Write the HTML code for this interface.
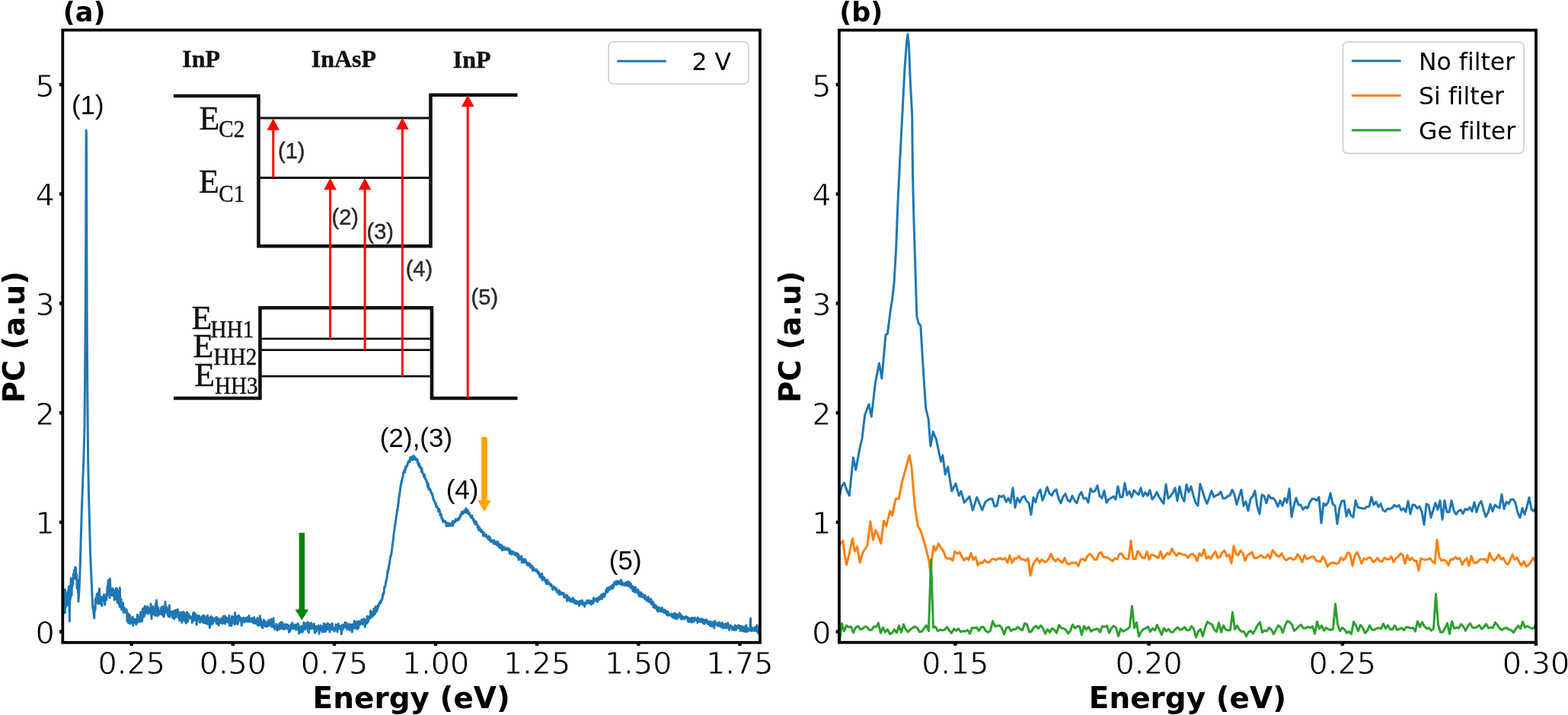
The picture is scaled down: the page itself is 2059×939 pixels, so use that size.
<!DOCTYPE html>
<html><head><meta charset="utf-8"><title>PC spectra</title>
<style>
html,body{margin:0;padding:0;background:#fff;}
body{width:2059px;height:939px;overflow:hidden;}
svg{display:block;}
text{font-variant-ligatures:none;font-feature-settings:"liga" 0,"clig" 0;font-kerning:none;}
.tl{font-family:"DejaVu Sans","Liberation Sans",sans-serif;font-size:39.7px;fill:#000;stroke:#fff;stroke-width:0.8px;}
.lb{font-family:"DejaVu Sans","Liberation Sans",sans-serif;font-size:39px;font-weight:bold;fill:#000;}
.pl{font-family:"DejaVu Sans","Liberation Sans",sans-serif;font-size:35.1px;font-weight:bold;fill:#000;}
.an{font-family:"Liberation Sans","DejaVu Sans",sans-serif;font-size:35px;fill:#000;}
.lg{font-family:"DejaVu Sans","Liberation Sans",sans-serif;font-size:31.5px;fill:#000;}
.tk{stroke:#000;stroke-width:4.5;}
.sp{fill:none;stroke:#000;stroke-width:3.8;}
.cv{fill:none;stroke-width:3;stroke-linejoin:round;stroke-linecap:butt;}
.ser{font-family:"Liberation Serif","DejaVu Serif",serif;fill:#111;stroke:#111;stroke-width:0.4px;}
.ins{font-family:"Liberation Sans","DejaVu Sans",sans-serif;font-size:29px;fill:#2b2b2b;stroke:#2b2b2b;stroke-width:0.5px;}
</style></head><body>
<svg width="2059" height="939" viewBox="0 0 2059 939">
<rect x="0" y="0" width="2059" height="939" fill="#fff"/>

<defs><clipPath id="ca"><rect x="82.3" y="39.5" width="915.7" height="804.3"/></clipPath><clipPath id="cb"><rect x="1101.9" y="39.6" width="915.1" height="804.1"/></clipPath></defs>
<g>
<polyline stroke="#111" fill="none" stroke-width="4.6" points="228,126 339.5,126 339.5,323.3 565.5,323.3 565.5,124.8 679.5,124.8"/>
<polyline stroke="#111" fill="none" stroke-width="4.6" points="228,523 341.5,523 341.5,404.2 567,404.2 567,523 679.5,523"/>
<line x1="341.5" y1="154.9" x2="563.5" y2="154.9" stroke="#111" stroke-width="3"/>
<line x1="341.5" y1="233.4" x2="563.5" y2="233.4" stroke="#111" stroke-width="3"/>
<line x1="343.5" y1="444.8" x2="565" y2="444.8" stroke="#111" stroke-width="2.8"/>
<line x1="343.5" y1="459.7" x2="565" y2="459.7" stroke="#111" stroke-width="2.8"/>
<line x1="343.5" y1="494.2" x2="565" y2="494.2" stroke="#111" stroke-width="2.8"/>
<line x1="358.8" y1="169.4" x2="358.8" y2="233.4" stroke="#ff0000" stroke-width="3"/>
<polygon points="350.5,170.9 367.1,170.9 358.8,155.4" fill="#ff0000"/>
<line x1="433.6" y1="247.8" x2="433.6" y2="444.8" stroke="#ff0000" stroke-width="3"/>
<polygon points="425.3,249.3 441.9,249.3 433.6,233.8" fill="#ff0000"/>
<line x1="479.1" y1="247.8" x2="479.1" y2="459.7" stroke="#ff0000" stroke-width="3"/>
<polygon points="470.8,249.3 487.4,249.3 479.1,233.8" fill="#ff0000"/>
<line x1="528.4" y1="168.6" x2="528.4" y2="494.2" stroke="#ff0000" stroke-width="3"/>
<polygon points="520.1,170.1 536.7,170.1 528.4,154.6" fill="#ff0000"/>
<line x1="614.2" y1="138.8" x2="614.2" y2="523" stroke="#ff0000" stroke-width="3"/>
<polygon points="605.9,140.3 622.5,140.3 614.2,124.8" fill="#ff0000"/>
<text class="ser" style="font-weight:bold" font-size="32" x="264.2" y="88.2" text-anchor="middle">InP</text>
<text class="ser" style="font-weight:bold" font-size="32" x="451.4" y="88.2" text-anchor="middle">InAsP</text>
<text class="ser" style="font-weight:bold" font-size="32" x="619.7" y="88.8" text-anchor="middle">InP</text>
<text class="ser" font-size="44" x="261.5" y="170.4">E</text>
<text class="ser" font-size="29.2" transform="translate(287.2 179.5) scale(1 1.075)">C2</text>
<text class="ser" font-size="44" x="261" y="253">E</text>
<text class="ser" font-size="29.2" transform="translate(287.2 264.5) scale(1 1.075)">C1</text>
<text class="ser" font-size="44" x="251.5" y="432">E</text>
<text class="ser" font-size="29.2" transform="translate(276.6 443) scale(1 1.075)">HH1</text>
<text class="ser" font-size="44" x="253.5" y="468.5">E</text>
<text class="ser" font-size="29.2" transform="translate(280.6 478.5) scale(1 1.075)">HH2</text>
<text class="ser" font-size="44" x="255.2" y="507">E</text>
<text class="ser" font-size="29.2" transform="translate(281.9 517) scale(1 1.075)">HH3</text>
<text class="ins" x="365" y="208.3">(1)</text>
<text class="ins" x="435.5" y="294.5">(2)</text>
<text class="ins" x="481.5" y="313.5">(3)</text>
<text class="ins" x="532.7" y="362.5">(4)</text>
<text class="ins" x="618.6" y="400">(5)</text>
</g>
<path class="cv" clip-path="url(#ca)" stroke="#1f77b4" d="M84 781L84.3 784.4L84.7 779.6L85 774.3L85.4 805L85.7 774.5L86.1 785.1L86.4 797.8L86.8 781L87.1 780.3L87.5 791.2L87.8 790.2L88.2 788.2L88.5 778.7L88.9 787.6L89.2 794.9L89.6 775.8L89.9 784.6L90.3 770.5L90.6 775.8L91 770L91.3 816L91.7 774.4L92 788.5L92.4 786.5L92.7 782.4L93.1 759.5L93.4 777.4L93.8 781.2L94.1 781.9L94.5 765.5L94.8 770.8L95.2 765.3L95.5 761.6L95.9 767.2L96.2 754.1L96.6 756.2L96.9 759.2L97.3 749L97.6 750.5L98 751.9L98.3 751.9L98.7 745.1L99 752.6L99.4 760.6L99.7 745.7L100.1 760L100.4 756.9L100.8 754.5L101.1 772.5L101.5 769.2L101.8 761.9L102.2 772.4L102.5 778.7L102.9 778L103 790L104.2 770L105.2 745L106.3 705L107.2 675L108.5 638L110 598L111 560L112 450L112.7 320L113 200L113.2 171L113.5 180L113.8 300L114.2 420L114.7 500L115.6 600L116.6 655L117.4 680L118.5 725L119.5 748L120.6 772L121.8 798L123.2 806L123.8 812L124.2 796.5L124.6 798.8L125.1 801.3L125.5 786.5L125.9 789.7L126.3 785L126.7 788.3L127.2 780.1L127.6 783.5L128 785.5L128.4 791.8L128.8 793L129.3 777.9L129.7 780.8L130.1 789.1L130.5 773.1L130.9 782.4L131.4 784.8L131.8 793.1L132.2 789.9L132.6 784L133 783.9L133.5 784.8L133.9 795.6L134.3 784.1L134.7 785L135.1 789.1L135.6 786.5L136 786.2L136.4 780.9L136.8 787.7L137.2 785.3L137.7 794.3L138.1 790L138.5 784.8L138.9 787.8L139.3 780.6L139.8 787.8L140.2 780.2L140.6 782.6L141 770.2L141.4 778.9L141.9 765.6L142.3 762.3L142.7 771.6L143.1 766.9L143.5 772.1L144 785.2L144.4 760L144.8 769.7L145.2 775.6L145.6 778.2L146.1 775L146.5 775.7L146.9 782L147.3 781.5L147.7 772.7L148.2 779L148.6 780.2L149 774.2L149.4 782.6L149.8 776.4L150.3 787.9L150.7 783.8L151.1 783.6L151.5 780L151.9 783.3L152.4 772.4L152.8 778.1L153.2 787.5L153.6 772.9L154 791.2L154.5 776.1L154.9 791.6L155.3 782.4L155.7 792.6L156.1 789.1L156.6 779.5L157 796.8L157.4 772L157.8 790.5L158.2 790L158.7 791.4L159.1 787.3L159.5 800.5L159.9 791.4L160.3 795.2L160.8 792.7L161.2 794.2L161.6 792L162 804.2L162.4 798.6L162.9 804.4L163.3 800.9L163.7 798.5L164.1 800.9L164.5 800.6L165 804L165.4 803.1L165.8 804.4L166.2 800.4L166.6 803.9L167.1 815.9L167.5 806.3L167.9 805.5L168.3 812.6L168.7 818.3L169.2 806.4L169.6 812.9L170 811.9L170.4 807.7L170.8 819.3L171.3 815.8L171.7 816.2L172.1 812.4L172.5 817.8L172.9 813.3L173.4 815L173.8 810.6L174.2 810.1L174.6 821.5L175 813.2L175.5 816.7L175.9 815.2L176.3 813.3L176.7 813L177.1 818.1L177.6 813.8L178 814.4L178.4 815.2L178.8 820.3L179.2 817.8L179.7 816.1L180.1 811.4L180.5 807.3L180.9 817.4L181.3 817L181.8 811.6L182.2 814.3L182.6 814.9L183 814.7L183.4 814.7L183.9 808.1L184.3 816.5L184.7 803.7L185.1 812.8L185.5 810.7L186 812L186.4 816.2L186.8 814.2L187.2 802.1L187.6 799.4L188.1 810.4L188.5 801.9L188.9 806.2L189.3 809.7L189.7 798.3L190.2 795.9L190.6 806.3L191 805.1L191.4 803.6L191.8 804.6L192.3 800.3L192.7 797.2L193.1 803.2L193.5 799.5L193.9 796.5L194.4 806.1L194.8 803.5L195.2 805.6L195.6 799.3L196 800.8L196.5 799.2L196.9 799.7L197.3 804.5L197.7 800.1L198.1 793L198.6 805L199 812.6L199.4 797.2L199.8 807.4L200.2 803L200.7 803.3L201.1 796.8L201.5 801.2L201.9 806.6L202.3 802.8L202.8 803.5L203.2 801.8L203.6 808.3L204 803L204.4 793.1L204.9 799.9L205.3 794.1L205.7 788.3L206.1 800.5L206.5 808.9L207 803.1L207.4 797.6L207.8 798.6L208.2 807.9L208.6 803.5L209.1 802.9L209.5 802.5L209.9 802.8L210.3 806.3L210.7 805.1L211.2 803.6L211.6 797.9L212 804.8L212.4 799.4L212.8 807.4L213.3 796.7L213.7 801.8L214.1 802.3L214.5 796.4L214.9 810.1L215.4 808.9L215.8 800.2L216.2 805.7L216.6 803.9L217 790.4L217.5 803.3L217.9 801.8L218.3 802.5L218.7 797.2L219.1 800.8L219.6 801.2L220 807.5L220.4 803.8L220.8 802.4L221.2 809.5L221.7 800.3L222.1 801.2L222.5 794.9L222.9 810.3L223.3 807.8L223.8 807.7L224.2 806.8L224.6 804.4L225 805.1L225.4 803.1L225.9 803.5L226.3 804.8L226.7 811.5L227.1 807.4L227.5 804.8L228 802.6L228.4 802.5L228.8 812.8L229.2 808L229.6 806.2L230.1 804.5L230.5 801.2L230.9 806.1L231.3 810.5L231.7 805L232.2 805.9L232.6 806.1L233 807.7L233.4 800.2L233.8 806.5L234.3 803.9L234.7 811.9L235.1 804.5L235.5 810.7L235.9 815L236.4 806.8L236.8 805.6L237.2 809.2L237.6 808.5L238 804.1L238.5 810.7L238.9 817.8L239.3 807.6L239.7 807.9L240.1 804.2L240.6 810.4L241 803.4L241.4 804.1L241.8 815L242.2 805.2L242.7 814.2L243.1 816.3L243.5 810.7L243.9 812.1L244.3 818.4L244.8 808.8L245.2 807.1L245.6 803.8L246 810.1L246.4 816.7L246.9 814.4L247.3 805.9L247.7 806.4L248.1 808L248.5 811.7L249 809.5L249.4 811.5L249.8 811.9L250.2 809.6L250.6 810.6L251.1 811.6L251.5 810.6L251.9 812.8L252.3 817.8L252.7 813.3L253.2 811.5L253.6 805.3L254 812.8L254.4 804.5L254.8 806.6L255.3 814.8L255.7 814.4L256.1 811.4L256.5 805.8L256.9 810.8L257.4 809.7L257.8 814.6L258.2 820.5L258.6 813.3L259 809.8L259.5 808.4L259.9 812.5L260.3 812.2L260.7 808.8L261.1 813.4L261.6 809L262 817.2L262.4 817.1L262.8 817.3L263.2 811.8L263.7 815.4L264.1 813.2L264.5 812.4L264.9 812.7L265.3 809.3L265.8 808.9L266.2 817L266.6 813.6L267 815.1L267.4 818L267.9 808.3L268.3 811.8L268.7 815.3L269.1 816.2L269.5 813.5L270 818.7L270.4 815.8L270.8 810.7L271.2 811.7L271.6 818L272.1 816.8L272.5 808.3L272.9 820L273.3 817.4L273.7 820.1L274.2 813.9L274.6 814.2L275 811.3L275.4 824.5L275.8 814.7L276.3 821.1L276.7 813.1L277.1 816L277.5 809.5L277.9 814.1L278.4 819.1L278.8 811L279.2 819.4L279.6 816.8L280 811.9L280.5 813.8L280.9 814L281.3 815.5L281.7 813.8L282.1 812.8L282.6 814.7L283 812.1L283.4 811.2L283.8 815.7L284.2 819.1L284.7 810.4L285.1 816L285.5 813.6L285.9 812.5L286.3 819L286.8 814.1L287.2 821.3L287.6 813.1L288 817.2L288.4 815L288.9 813.1L289.3 817.9L289.7 815.2L290.1 817.9L290.5 815.5L291 811.7L291.4 815.2L291.8 815.8L292.2 819L292.6 812.3L293.1 815.4L293.5 809.3L293.9 817.8L294.3 811.5L294.7 808.9L295.2 815.1L295.6 819.3L296 809.8L296.4 811.3L296.8 812.5L297.3 811.1L297.7 816.5L298.1 812.2L298.5 812.5L298.9 817.2L299.4 812.3L299.8 816.6L300.2 811.5L300.6 810.6L301 808.4L301.5 821.7L301.9 813.8L302.3 815.9L302.7 814.9L303.1 815.6L303.6 815.2L304 821.9L304.4 811.3L304.8 809.4L305.2 811.4L305.7 810.2L306.1 817.7L306.5 818L306.9 811.5L307.3 810L307.8 813.7L308.2 820L308.6 804.8L309 816.9L309.4 811.1L309.9 818.7L310.3 811.1L310.7 814L311.1 809.6L311.5 811.5L312 820L312.4 818L312.8 813.6L313.2 811.9L313.6 808.2L314.1 813.6L314.5 814.9L314.9 814.7L315.3 814.7L315.7 811L316.2 814.8L316.6 814.9L317 819.6L317.4 821.7L317.8 814.5L318.3 812.2L318.7 814.8L319.1 812.8L319.5 812.3L319.9 814.8L320.4 811.3L320.8 817.3L321.2 814.8L321.6 816.1L322 814.6L322.5 812.7L322.9 811.9L323.3 814.5L323.7 813.5L324.1 816.3L324.6 815.5L325 810.7L325.4 815.9L325.8 810.9L326.2 813.5L326.7 814.7L327.1 808.4L327.5 816.2L327.9 816.5L328.3 815.4L328.8 814.5L329.2 814.7L329.6 812.6L330 815.2L330.4 814.2L330.9 816.6L331.3 812L331.7 817.2L332.1 816.9L332.5 816L333 814.9L333.4 818.6L333.8 810.6L334.2 818.3L334.6 817.6L335.1 817.8L335.5 818.2L335.9 814.5L336.3 816L336.7 819.3L337.2 818.6L337.6 817.8L338 811.7L338.4 819.2L338.8 821.5L339.3 821L339.7 818.3L340.1 811.9L340.5 821L340.9 817.2L341.4 808.7L341.8 819.2L342.2 812.5L342.6 813.3L343 815.8L343.5 822.7L343.9 816.9L344.3 819.3L344.7 824.7L345.1 824.2L345.6 818.1L346 817.7L346.4 814.1L346.8 816.2L347.2 820.3L347.7 820.3L348.1 819.4L348.5 822.6L348.9 816.3L349.3 819L349.8 821.9L350.2 821.2L350.6 822.8L351 820.7L351.4 818.6L351.9 820.8L352.3 816.5L352.7 814.5L353.1 821.7L353.5 819.7L354 821L354.4 814.6L354.8 818.9L355.2 818.3L355.6 817.5L356.1 813.1L356.5 819.3L356.9 823.3L357.3 821.7L357.7 818.6L358.2 820.5L358.6 823.1L359 811.9L359.4 820.4L359.8 822.6L360.3 823.1L360.7 826.4L361.1 824.6L361.5 822.1L361.9 822.1L362.4 823.7L362.8 819.5L363.2 821.2L363.6 824.3L364 827.7L364.5 821L364.9 821.4L365.3 822.2L365.7 826L366.1 821.6L366.6 826.5L367 818.8L367.4 821.3L367.8 821.3L368.2 824.6L368.7 825.4L369.1 817.3L369.5 819.3L369.9 823.4L370.3 820.2L370.8 817.5L371.2 825.8L371.6 824.1L372 824.2L372.4 821.1L372.9 826L373.3 822L373.7 826.3L374.1 820L374.5 820.2L375 823.6L375.4 820.8L375.8 825.2L376.2 823.9L376.6 820.1L377.1 823.3L377.5 822L377.9 826.1L378.3 821.1L378.7 821.8L379.2 827.1L379.6 830.4L380 829.6L380.4 823.5L380.8 824L381.3 828.2L381.7 822.9L382.1 820.2L382.5 823.7L382.9 824.8L383.4 820.7L383.8 818.1L384.2 818.8L384.6 825.6L385 821L385.5 823L385.9 824.2L386.3 825.5L386.7 822.5L387.1 825.2L387.6 820.7L388 822.4L388.4 820.3L388.8 827.3L389.2 823.6L389.7 821.3L390.1 822.6L390.5 823L390.9 826L391.3 818.7L391.8 820.5L392.2 822.6L392.6 831.9L393 826.9L393.4 823.5L393.9 826.2L394.3 830.5L394.7 823.2L395.1 822.8L395.5 827.8L396 825.6L396.4 826.1L396.8 822.4L397.2 830.2L397.6 829.5L398.1 825.9L398.5 826.3L398.9 817.6L399.3 826.2L399.7 823.5L400.2 825.5L400.6 826.4L401 823.1L401.4 818.8L401.8 825.4L402.3 821.9L402.7 823.2L403.1 822.3L403.5 823.2L403.9 816.9L404.4 828.2L404.8 825.2L405.2 827.9L405.6 830.7L406 824.5L406.5 818.7L406.9 821.6L407.3 820.6L407.7 822.9L408.1 824.7L408.6 818.1L409 825.6L409.4 819.7L409.8 825.5L410.2 824.2L410.7 823.6L411.1 824.4L411.5 822.9L411.9 822.7L412.3 819.3L412.8 824.6L413.2 830.6L413.6 831.1L414 829L414.4 827L414.9 822.6L415.3 829.4L415.7 824.6L416.1 824.6L416.5 823.9L417 825.2L417.4 823.5L417.8 824.6L418.2 821.5L418.6 823.7L419.1 832.3L419.5 824.8L419.9 824.2L420.3 826.7L420.7 827.3L421.2 821.4L421.6 824.3L422 827.9L422.4 825.9L422.8 825.4L423.3 830L423.7 822.8L424.1 825.3L424.5 823.3L424.9 829.8L425.4 818.8L425.8 822.9L426.2 823.3L426.6 827.1L427 826.9L427.5 829.5L427.9 820L428.3 827.4L428.7 824.1L429.1 822.9L429.6 826.7L430 822.1L430.4 818.4L430.8 823.8L431.2 820.2L431.7 822.9L432.1 826.2L432.5 826L432.9 830.1L433.3 824.4L433.8 820.1L434.2 822.6L434.6 822.1L435 821.1L435.4 826.4L435.9 822.9L436.3 818.7L436.7 827.2L437.1 824.6L437.5 826.1L438 825.3L438.4 827L438.8 825.1L439.2 828.9L439.6 826.3L440.1 826.2L440.5 826.2L440.9 820.2L441.3 824.3L441.7 824L442.2 825.5L442.6 820.4L443 830L443.4 825.1L443.8 820.8L444.3 819.2L444.7 823.8L445.1 824.4L445.5 822.3L445.9 824.9L446.4 822.5L446.8 826.3L447.2 822.2L447.6 824.4L448 827.6L448.5 832.7L448.9 821.2L449.3 822.9L449.7 821.7L450.1 826.9L450.6 820.6L451 822.7L451.4 824.2L451.8 821.1L452.2 821.2L452.7 822.7L453.1 817.5L453.5 819.5L453.9 822.8L454.3 824.6L454.8 823.5L455.2 818.4L455.6 822.5L456 826.5L456.4 825.6L456.9 823.5L457.3 820.8L457.7 825.5L458.1 821.5L458.5 819.5L459 820.5L459.4 827.6L459.8 823.6L460.2 826.4L460.6 821.1L461.1 825.5L461.5 820.4L461.9 821.7L462.3 830.1L462.7 824.4L463.2 820.2L463.6 821.5L464 822.6L464.4 825.3L464.8 819.8L465.3 815.6L465.7 820.2L466.1 821L466.5 821.1L466.9 824.8L467.4 821.4L467.8 822.8L468.2 816.5L468.6 822.7L469 826.4L469.5 822L469.9 820.1L470.3 819.6L470.7 824.7L471.1 815.8L471.6 818.3L472 819.9L472.4 820.6L472.8 816.7L473.2 818.9L473.7 816.9L474.1 818L474.5 817.1L474.9 813.7L475.3 817.2L475.8 819.9L476.2 813.8L476.6 816L477 818.8L477.4 813.1L477.9 817L478.3 812.8L478.7 819.7L479.1 823.3L479.5 822L480 814.5L480.4 817.3L480.8 814.9L481.2 814.6L481.6 818.8L482.1 809.3L482.5 816.6L482.9 812.7L483.3 817.1L483.7 812.8L484.2 809.7L484.6 812.2L485 813.2L485.4 810.5L485.8 811.4L486.3 807.7L486.7 802L487.1 811.3L487.5 810.1L487.9 807.9L488.4 807.1L488.8 809.7L489.2 804.5L489.6 803.2L490 804.3L490.5 808.2L490.9 799.4L491.3 807.2L491.7 800.8L492.1 798.8L492.6 805.8L493 800.9L493.4 796.5L493.8 799L494.2 802.6L494.7 802.9L495.1 797.2L495.5 799.3L495.9 799.8L496.3 794.9L496.8 797.3L497.2 795.2L497.6 792.8L498 792.2L498.4 793.2L498.9 792.3L499.3 789.6L499.7 789.2L500.1 791.2L500.5 788.7L501 788.4L501.4 787.5L501.8 785.4L502.2 786.5L502.6 780.9L503.1 781.9L503.5 778.5L503.9 779.7L504.3 777.7L504.7 770.7L505.2 770.3L505.6 770.8L506 769.1L506.4 766.9L506.8 763.7L507.3 762.3L507.7 760.5L508.1 757.4L508.5 756.8L508.9 750.1L509.4 752.1L509.8 747.7L510.2 748.2L510.6 744.2L511 741L511.5 740.4L511.9 736.2L512.3 733.9L512.7 730.6L513.1 730.4L513.6 728.8L514 727.2L514.4 723L514.8 721.4L515.2 716.7L515.7 713.2L516.1 710.9L516.5 708.2L516.9 703L517.3 699.8L517.8 696.7L518.2 693.9L518.6 689.6L519 689.3L519.4 684.4L519.9 682.7L520.3 678L520.7 676.7L521.1 673.8L521.5 669.8L522 670.3L522.4 665L522.8 664.1L523.2 660.1L523.6 655L524.1 652.6L524.5 650.9L524.9 647.5L525.3 644.7L525.7 641.4L526.2 636.7L526.6 637L527 632.3L527.4 634L527.8 630.6L528.3 628.7L528.7 627.4L529.1 626.2L529.5 621.9L529.9 620.4L530.4 620.2L530.8 617.7L531.2 618L531.6 620.4L532 615.6L532.5 616.8L532.9 612.9L533.3 614.1L533.7 612L534.1 611.3L534.6 611L535 611.5L535.4 608.7L535.8 607.9L536.2 605.8L536.7 607.3L537.1 605.5L537.5 606.4L537.9 604.6L538.3 606.4L538.8 600.6L539.2 602.5L539.6 603.8L540 601.8L540.4 600.9L540.9 601.4L541.3 599.5L541.7 601.3L542.1 604.3L542.5 602.2L543 598.7L543.4 598.8L543.8 599.9L544.2 602.4L544.6 600.3L545.1 600.9L545.5 603.6L545.9 604.1L546.3 603L546.7 602.6L547.2 602.7L547.6 604.6L548 603.1L548.4 608L548.8 606.7L549.3 609L549.7 611.6L550.1 611.3L550.5 608.9L550.9 612.7L551.4 614.1L551.8 612.4L552.2 613.1L552.6 615.3L553 614.2L553.5 619.5L553.9 615L554.3 617.8L554.7 620L555.1 621L555.6 622.5L556 623.5L556.4 623.8L556.8 626.6L557.2 622.9L557.7 626.8L558.1 626.7L558.5 628.8L558.9 629.9L559.3 629.2L559.8 630.5L560.2 633.5L560.6 633.8L561 633.1L561.4 638.2L561.9 639.6L562.3 635L562.7 638.7L563.1 643.1L563.5 641.5L564 641.7L564.4 642.1L564.8 642.7L565.2 644.2L565.6 644.8L566.1 647.8L566.5 647.1L566.9 648.1L567.3 648L567.7 650.8L568.2 650.6L568.6 652.8L569 655.7L569.4 655.7L569.8 657L570.3 657.8L570.7 658.5L571.1 659.2L571.5 660L571.9 662.7L572.4 661L572.8 665.6L573.2 664.6L573.6 664.3L574 665.6L574.5 666.3L574.9 668.4L575.3 668L575.7 671.7L576.1 669.8L576.6 668.4L577 671.7L577.4 670.7L577.8 674.5L578.2 677L578.7 677.2L579.1 675L579.5 676.6L579.9 681.2L580.3 679.7L580.8 680L581.2 682.4L581.6 685.2L582 684.3L582.4 683.3L582.9 684.4L583.3 685.5L583.7 684.3L584.1 684L584.5 686L585 684.9L585.4 686.6L585.8 687.2L586.2 690.9L586.6 686.5L587.1 688L587.5 688.3L587.9 689.6L588.3 690.7L588.7 688.5L589.2 688.1L589.6 687L590 688.1L590.4 690.4L590.8 689.8L591.3 688.3L591.7 689.4L592.1 689.8L592.5 690.2L592.9 688.2L593.4 688.4L593.8 685.7L594.2 686.4L594.6 690.3L595 684.2L595.5 686.7L595.9 687.2L596.3 686L596.7 685L597.1 685.8L597.6 685.4L598 684.9L598.4 681.8L598.8 684L599.2 682.5L599.7 682.5L600.1 683.3L600.5 683.5L600.9 683.4L601.3 680.9L601.8 682.6L602.2 682.6L602.6 682.1L603 682.1L603.4 679.1L603.9 678.4L604.3 679.3L604.7 675.4L605.1 677.1L605.5 675.4L606 675L606.4 672.3L606.8 673L607.2 673.8L607.6 674.8L608.1 674.6L608.5 672.6L608.9 672.1L609.3 670.8L609.7 672.3L610.2 671L610.6 671.9L611 673.3L611.4 670.3L611.8 667.8L612.3 669.1L612.7 668.7L613.1 669.4L613.5 673.6L613.9 672.4L614.4 670.2L614.8 673.8L615.2 675.1L615.6 673.1L616 673L616.5 674.1L616.9 675.7L617.3 676.8L617.7 678.2L618.1 678.8L618.6 679.4L619 680.2L619.4 679.8L619.8 677.1L620.2 679.7L620.7 681L621.1 680.6L621.5 683.2L621.9 682.1L622.3 682L622.8 686.2L623.2 685.8L623.6 685.9L624 687.7L624.4 688.6L624.9 688.3L625.3 684.7L625.7 688L626.1 688.9L626.5 688.7L627 691.1L627.4 693.2L627.8 691.3L628.2 690.9L628.6 696.2L629.1 693.1L629.5 692.6L629.9 695.4L630.3 696.2L630.7 695.1L631.2 697.7L631.6 696.2L632 695.9L632.4 698L632.8 699.3L633.3 697.6L633.7 699.4L634.1 699.2L634.5 703.9L634.9 699L635.4 702.6L635.8 700.8L636.2 701.1L636.6 702.8L637 703.4L637.5 704.4L637.9 703.4L638.3 702.4L638.7 702.8L639.1 704.8L639.6 705.2L640 706.8L640.4 705.7L640.8 707L641.2 708.1L641.7 706.4L642.1 704.3L642.5 705.1L642.9 705.1L643.3 710L643.8 706.7L644.2 710.2L644.6 709.6L645 711.7L645.4 711L645.9 709.7L646.3 709.9L646.7 710.7L647.1 711.2L647.5 710.4L648 711.4L648.4 714.2L648.8 709.5L649.2 712.7L649.6 711.2L650.1 713.1L650.5 714.4L650.9 713.3L651.3 714.8L651.7 711.6L652.2 715.9L652.6 713.6L653 715.7L653.4 715.3L653.8 711.4L654.3 714.4L654.7 716.2L655.1 718.5L655.5 716.8L655.9 717.1L656.4 714.8L656.8 719.4L657.2 720.2L657.6 717.8L658 717.7L658.5 715.8L658.9 719.8L659.3 722.7L659.7 720L660.1 721L660.6 720.2L661 718.1L661.4 721.8L661.8 718.2L662.2 719.9L662.7 720.9L663.1 722L663.5 721.5L663.9 721.7L664.3 720.2L664.8 719.6L665.2 721.9L665.6 720.9L666 720.3L666.4 720.5L666.9 721.9L667.3 720.1L667.7 721.1L668.1 720.9L668.5 723.8L669 724.4L669.4 727L669.8 722L670.2 723.5L670.6 726.1L671.1 724.6L671.5 724.7L671.9 728L672.3 725.2L672.7 724.2L673.2 724.2L673.6 726.9L674 727.1L674.4 724.9L674.8 725.7L675.3 728.2L675.7 728.5L676.1 726.9L676.5 729.1L676.9 729.2L677.4 726L677.8 728.4L678.2 729.8L678.6 728.6L679 726.6L679.5 729.7L679.9 731.5L680.3 733.1L680.7 727.8L681.1 735.3L681.6 730L682 733.4L682.4 734.2L682.8 734.1L683.2 733.2L683.7 731.5L684.1 734.5L684.5 732.8L684.9 730.4L685.3 738.7L685.8 735.9L686.2 737.9L686.6 734.1L687 737.9L687.4 738.4L687.9 738.7L688.3 736.6L688.7 735.1L689.1 737L689.5 734.2L690 735.3L690.4 738.3L690.8 736.9L691.2 738.5L691.6 738.9L692.1 742.2L692.5 741.6L692.9 739.9L693.3 742.1L693.7 739.5L694.2 740.5L694.6 742.7L695 739.9L695.4 741.7L695.8 740.5L696.3 743L696.7 745.6L697.1 742.4L697.5 744.3L697.9 742.9L698.4 742.9L698.8 743.2L699.2 747.6L699.6 749.3L700 746.9L700.5 745.5L700.9 748L701.3 746.9L701.7 749L702.1 748.7L702.6 749.1L703 750L703.4 748.6L703.8 749.3L704.2 747.7L704.7 750L705.1 749L705.5 751.3L705.9 750.5L706.3 752.5L706.8 753.5L707.2 751.1L707.6 752.4L708 752.6L708.4 755.6L708.9 757.4L709.3 756.6L709.7 755.2L710.1 758.3L710.5 754.2L711 759.2L711.4 756.3L711.8 753.6L712.2 762.1L712.6 760.9L713.1 757.4L713.5 759.6L713.9 759.5L714.3 760.4L714.7 758.4L715.2 760L715.6 762.2L716 762.2L716.4 764.1L716.8 762.8L717.3 766.6L717.7 762.4L718.1 764.3L718.5 761.5L718.9 762.9L719.4 767.1L719.8 764.1L720.2 766.6L720.6 766.1L721 765L721.5 766.4L721.9 766.5L722.3 766.9L722.7 769.1L723.1 769.3L723.6 767.8L724 767.6L724.4 769.8L724.8 769.5L725.2 771.6L725.7 774.4L726.1 772L726.5 771L726.9 771.2L727.3 770.5L727.8 770.8L728.2 771L728.6 772.2L729 772.5L729.4 774.6L729.9 773.3L730.3 773.9L730.7 772.7L731.1 777.3L731.5 775.8L732 778.1L732.4 776.9L732.8 778.2L733.2 775.9L733.6 777.6L734.1 780.9L734.5 775.3L734.9 779.2L735.3 780.3L735.7 778.6L736.2 779.5L736.6 780.5L737 777.9L737.4 779.8L737.8 778.2L738.3 778.7L738.7 779.1L739.1 780.2L739.5 780.9L739.9 781.7L740.4 779.1L740.8 784.7L741.2 783.8L741.6 783.4L742 782.1L742.5 782.9L742.9 784.2L743.3 784.3L743.7 781.5L744.1 785.5L744.6 789.2L745 782.2L745.4 786.8L745.8 786.1L746.2 785.6L746.7 788.1L747.1 784.4L747.5 786.7L747.9 789L748.3 786.6L748.8 786.5L749.2 787.6L749.6 787L750 790.3L750.4 786.7L750.9 789.7L751.3 786.7L751.7 789.9L752.1 788.9L752.5 785.2L753 789.3L753.4 787.8L753.8 788.9L754.2 792.1L754.6 788.1L755.1 788.3L755.5 792.3L755.9 790.4L756.3 792.8L756.7 791L757.2 789.3L757.6 790.7L758 792.8L758.4 792.5L758.8 791.2L759.3 791.4L759.7 791.3L760.1 790.3L760.5 795.5L760.9 791.6L761.4 789.3L761.8 790.7L762.2 793.2L762.6 793.1L763 791.5L763.5 790.4L763.9 791.9L764.3 788.4L764.7 789.2L765.1 793.6L765.6 791L766 792.8L766.4 794.6L766.8 793.4L767.2 792.2L767.7 796.5L768.1 793.6L768.5 791.5L768.9 793.8L769.3 793.1L769.8 790.6L770.2 792.5L770.6 792.1L771 788.4L771.4 792.1L771.9 791.9L772.3 791.4L772.7 788.8L773.1 791.3L773.5 791.8L774 791.9L774.4 789.2L774.8 792.7L775.2 788.8L775.6 790.7L776.1 793.7L776.5 789.4L776.9 789.7L777.3 792.8L777.7 789.6L778.2 789.7L778.6 790.6L779 792.2L779.4 785.3L779.8 787.9L780.3 787.3L780.7 786.9L781.1 787.2L781.5 787L781.9 789.1L782.4 786.4L782.8 788.3L783.2 788.6L783.6 786.1L784 787.6L784.5 790.5L784.9 787.6L785.3 785.4L785.7 786.4L786.1 784.4L786.6 786.6L787 787.5L787.4 783.7L787.8 784.5L788.2 786.8L788.7 783.1L789.1 784.1L789.5 781.2L789.9 781.3L790.3 781.5L790.8 786.5L791.2 780.9L791.6 780.3L792 779.8L792.4 780.2L792.9 781.4L793.3 780.1L793.7 783.5L794.1 779.5L794.5 781.6L795 778.9L795.4 779.2L795.8 774.7L796.2 777L796.6 776.7L797.1 776L797.5 771.9L797.9 777.6L798.3 774.7L798.7 774.2L799.2 774.2L799.6 773.9L800 774.8L800.4 771.1L800.8 771.4L801.3 773.5L801.7 772.9L802.1 771.4L802.5 770.7L802.9 769.8L803.4 771L803.8 773.1L804.2 768.3L804.6 773.1L805 771.4L805.5 768.4L805.9 770.5L806.3 765.7L806.7 764.8L807.1 765.4L807.6 767L808 767L808.4 766.4L808.8 767.5L809.2 762.9L809.7 768L810.1 764L810.5 765.3L810.9 765.7L811.3 764L811.8 763.4L812.2 764L812.6 765.8L813 766.9L813.4 766.7L813.9 763.5L814.3 764L814.7 763.8L815.1 766.5L815.5 761.6L816 768.2L816.4 764.8L816.8 764.2L817.2 766.5L817.6 767.9L818.1 766.5L818.5 768L818.9 766.2L819.3 768.4L819.7 768.5L820.2 765.9L820.6 769.1L821 766.8L821.4 766.8L821.8 765L822.3 766.5L822.7 768.8L823.1 764.8L823.5 768.9L823.9 768.5L824.4 768.6L824.8 763.8L825.2 768.2L825.6 769.9L826 767.4L826.5 769.3L826.9 764.7L827.3 771L827.7 768.6L828.1 772L828.6 766.8L829 772.1L829.4 770.5L829.8 772.9L830.2 769.7L830.7 770.6L831.1 776.5L831.5 770.7L831.9 771.3L832.3 772.5L832.8 771.3L833.2 776.1L833.6 777.5L834 773L834.4 771.2L834.9 777.4L835.3 777.6L835.7 777.3L836.1 778.3L836.5 774.6L837 776.3L837.4 774.2L837.8 774.5L838.2 779.6L838.6 776.6L839.1 782.9L839.5 778.8L839.9 777.7L840.3 780.9L840.7 783.2L841.2 780.9L841.6 777.9L842 781.4L842.4 783.7L842.8 780.3L843.3 780.1L843.7 784L844.1 782.6L844.5 780.4L844.9 782.2L845.4 781.8L845.8 784.2L846.2 784.2L846.6 786.6L847 786.1L847.5 781.9L847.9 786.2L848.3 787.5L848.7 787L849.1 788.5L849.6 785.6L850 785.2L850.4 789.3L850.8 785.7L851.2 783.8L851.7 790.5L852.1 787.4L852.5 788.6L852.9 786.7L853.3 787.3L853.8 788L854.2 789.9L854.6 791.8L855 786.8L855.4 793.3L855.9 789.8L856.3 790.4L856.7 794.2L857.1 793.1L857.5 790.5L858 797.7L858.4 792.6L858.8 795.1L859.2 795.4L859.6 798.1L860.1 794.7L860.5 798L860.9 794.9L861.3 798.9L861.7 795.5L862.2 796.6L862.6 801.5L863 798.7L863.4 798.6L863.8 803.2L864.3 799.8L864.7 797.7L865.1 801L865.5 797.4L865.9 802.3L866.4 802.7L866.8 799.4L867.2 799.5L867.6 801.4L868 801.3L868.5 799.6L868.9 802.9L869.3 797.9L869.7 801.4L870.1 801.7L870.6 802.2L871 803.6L871.4 800.7L871.8 804.5L872.2 803.1L872.7 802.3L873.1 801L873.5 801.6L873.9 804.8L874.3 802.3L874.8 804.5L875.2 806.7L875.6 806.8L876 808L876.4 804.4L876.9 803L877.3 807.4L877.7 806.1L878.1 807.9L878.5 805.8L879 808.3L879.4 807.8L879.8 807.6L880.2 807.3L880.6 807.2L881.1 807L881.5 807.1L881.9 808.8L882.3 805.9L882.7 810.5L883.2 806.9L883.6 809.2L884 807.2L884.4 807L884.8 811.6L885.3 807.1L885.7 805.3L886.1 806.5L886.5 807.4L886.9 812.5L887.4 808.7L887.8 810.3L888.2 806.5L888.6 809.3L889 810.1L889.5 812.5L889.9 807.6L890.3 810.3L890.7 809.8L891.1 807.2L891.6 809.3L892 808.9L892.4 804.9L892.8 810.8L893.2 810.8L893.7 808.9L894.1 807.2L894.5 812.9L894.9 810.6L895.3 812.2L895.8 813.1L896.2 809.3L896.6 812.1L897 810L897.4 810.5L897.9 810.5L898.3 810.8L898.7 813.1L899.1 811.2L899.5 810.8L900 810.6L900.4 811.9L900.8 809.6L901.2 810.4L901.6 811.4L902.1 810.5L902.5 811.5L902.9 810.6L903.3 815.9L903.7 814.7L904.2 813L904.6 812.1L905 816.7L905.4 813.1L905.8 812.4L906.3 813.2L906.7 813.3L907.1 815.7L907.5 812.9L907.9 817.2L908.4 811.4L908.8 814.6L909.2 811.3L909.6 817.1L910 812.9L910.5 813.5L910.9 815.6L911.3 816.3L911.7 811.7L912.1 813.3L912.6 811.3L913 814.4L913.4 814L913.8 813.6L914.2 813L914.7 813.7L915.1 813L915.5 815.7L915.9 817.7L916.3 810.9L916.8 814.6L917.2 814L917.6 815.9L918 813.1L918.4 814.8L918.9 813.1L919.3 816.6L919.7 815.5L920.1 815.1L920.5 816.2L921 815L921.4 812.5L921.8 816.9L922.2 816.3L922.6 815.5L923.1 817.8L923.5 818.4L923.9 813.8L924.3 814.6L924.7 819.3L925.2 819.2L925.6 815L926 814.2L926.4 815.4L926.8 815.8L927.3 813.8L927.7 817.1L928.1 814.6L928.5 814.8L928.9 819.2L929.4 816.1L929.8 817.5L930.2 819L930.6 819.5L931 817.3L931.5 818.1L931.9 816.5L932.3 821.8L932.7 819.7L933.1 816.3L933.6 818.6L934 820.2L934.4 819.8L934.8 822.6L935.2 821.8L935.7 818L936.1 819L936.5 816.7L936.9 819.8L937.3 819.7L937.8 824.9L938.2 819.8L938.6 815.5L939 818.4L939.4 820L939.9 817.4L940.3 818.2L940.7 819.3L941.1 820.8L941.5 819.8L942 818.5L942.4 821.9L942.8 819.3L943.2 819.5L943.6 817.8L944.1 819L944.5 822L944.9 817.5L945.3 820.7L945.7 822.4L946.2 820.2L946.6 821.5L947 818.9L947.4 823.8L947.8 823.5L948.3 821.9L948.7 817.9L949.1 819.4L949.5 823.6L949.9 825.1L950.4 822.4L950.8 824.3L951.2 820.7L951.6 821.6L952 822.1L952.5 823L952.9 819.2L953.3 824.2L953.7 825L954.1 820.2L954.6 819.8L955 823.3L955.4 821.4L955.8 818L956.2 824.5L956.7 823.2L957.1 822.1L957.5 827.3L957.9 823.4L958.3 821.7L958.8 823.4L959.2 821.2L959.6 821.8L960 824.2L960.4 822.3L960.9 822.6L961.3 826.9L961.7 825.3L962.1 825.3L962.5 824.8L963 824.7L963.4 826.7L963.8 823.8L964.2 827.6L964.6 822.1L965.1 823.5L965.5 821.3L965.9 823.5L966.3 825.2L966.7 827.2L967.2 823L967.6 824.4L968 823.7L968.4 823L968.8 822.1L969.3 824.7L969.7 821.1L970.1 824.9L970.5 824.7L970.9 823.4L971.4 822.7L971.8 822L972.2 828.6L972.6 822.2L973 828L973.5 826.1L973.9 824.2L974.3 822.7L974.7 827.1L975.1 828.5L975.6 823.2L976 824.5L976.4 827.3L976.8 825.9L977.2 829.3L977.7 824.2L978.1 826.4L978.5 822.9L978.9 829.6L979.3 824L979.8 821.1L980.2 825.3L980.6 825.3L981 829.4L981.4 825L981.9 825.6L982.3 826.9L982.7 828.9L983.1 825.7L983.5 827.9L984 826.9L984.4 825.3L984.8 826.1L985.2 826L985.6 812L986.1 828.5L986.5 823.3L986.9 828.5L987.3 828.1L987.7 826L988.2 824.7L988.6 825.8L989 827.3L989.4 827.8L989.8 827L990.3 828.4L990.7 825.4L991.1 827L991.5 823.4L991.9 828.1L992.4 826.9L992.8 825.8L993.2 829L993.6 828.1L994 821.1L994.5 826.9L994.9 823.9L995.3 829L995.7 831.9L996.1 825.9L996.6 827.1"/>
<text class="an" x="115.3" y="149.6" text-anchor="middle">(1)</text>
<text class="an" x="546.5" y="587.3" text-anchor="middle">(2),(3)</text>
<text class="an" x="607.1" y="655.1" text-anchor="middle">(4)</text>
<text class="an" x="821.2" y="747.8" text-anchor="middle">(5)</text>
<line x1="396.4" y1="699.7" x2="396.4" y2="801" stroke="#008000" stroke-width="7.4"/><polygon points="387.6,800.4 405.1,800.4 396.4,814.6" fill="#008000"/>
<line x1="636" y1="573.9" x2="636" y2="658" stroke="#ffa500" stroke-width="7.6"/><polygon points="627.3,657 644.6,657 636,672.2" fill="#ffa500"/>
<rect x="799.2" y="54.7" width="183.6" height="55.6" rx="6" ry="6" fill="#fff" fill-opacity="0.8" stroke="#cccccc" stroke-width="1.6"/>
<line x1="810.4" y1="80.2" x2="874.7" y2="80.2" stroke="#1f77b4" stroke-width="3"/>
<text class="lg" x="908.4" y="91.8">2 V</text>
<line x1="172.8" y1="843.8" x2="172.8" y2="848" class="tk"/>
<text x="172.8" y="885" class="tl" text-anchor="middle">0.25</text>
<line x1="305.9" y1="843.8" x2="305.9" y2="848" class="tk"/>
<text x="305.9" y="885" class="tl" text-anchor="middle">0.50</text>
<line x1="439" y1="843.8" x2="439" y2="848" class="tk"/>
<text x="439" y="885" class="tl" text-anchor="middle">0.75</text>
<line x1="572.1" y1="843.8" x2="572.1" y2="848" class="tk"/>
<text x="572.1" y="885" class="tl" text-anchor="middle">1.00</text>
<line x1="705.2" y1="843.8" x2="705.2" y2="848" class="tk"/>
<text x="705.2" y="885" class="tl" text-anchor="middle">1.25</text>
<line x1="838.3" y1="843.8" x2="838.3" y2="848" class="tk"/>
<text x="838.3" y="885" class="tl" text-anchor="middle">1.50</text>
<line x1="971.4" y1="843.8" x2="971.4" y2="848" class="tk"/>
<text x="971.4" y="885" class="tl" text-anchor="middle">1.75</text>
<line x1="78.1" y1="829.6" x2="82.3" y2="829.6" class="tk"/>
<text x="71.8" y="845.1" class="tl" text-anchor="end">0</text>
<line x1="78.1" y1="685.9" x2="82.3" y2="685.9" class="tk"/>
<text x="71.8" y="701.4" class="tl" text-anchor="end">1</text>
<line x1="78.1" y1="542.2" x2="82.3" y2="542.2" class="tk"/>
<text x="71.8" y="557.7" class="tl" text-anchor="end">2</text>
<line x1="78.1" y1="398.5" x2="82.3" y2="398.5" class="tk"/>
<text x="71.8" y="414" class="tl" text-anchor="end">3</text>
<line x1="78.1" y1="254.8" x2="82.3" y2="254.8" class="tk"/>
<text x="71.8" y="270.3" class="tl" text-anchor="end">4</text>
<line x1="78.1" y1="111.1" x2="82.3" y2="111.1" class="tk"/>
<text x="71.8" y="126.6" class="tl" text-anchor="end">5</text>
<rect x="82.3" y="39.5" width="915.7" height="804.3" class="sp"/>
<text class="pl" x="82.8" y="28.3">(a)</text>
<text class="lb" x="540.2" y="929.6" text-anchor="middle">Energy (eV)</text>
<text class="lb" style="font-size:38.5px" transform="translate(31.6 442.7) rotate(-90)" text-anchor="middle">PC (a.u)</text>
<path class="cv" clip-path="url(#cb)" stroke="#1f77b4" d="M1102.5 652L1105 639L1108.5 634L1112 644L1115.3 651L1120.4 601L1123.8 617L1128.9 589L1132 576L1135.7 545L1140.9 531L1144.3 547L1149.4 503L1154.5 477L1157.9 497L1163 440L1165.5 438L1169 410L1171.5 394L1174 372L1176.5 330L1179 266L1182 205L1185 148L1188 90L1190.5 55L1192 45L1193.5 60L1195.4 108L1197.7 150L1198.5 227L1200 290L1201.7 345L1203.8 415L1206 424L1208.9 428L1212 480L1215.7 536L1219.1 550L1221.9 586L1225.3 567L1229.4 577L1235.5 606L1237.9 598L1241.3 623L1244.7 613L1249.8 645L1254.9 635L1259.3 651L1262 645L1266.2 660L1273.1 652L1277.3 670L1282.8 653L1289.8 670L1293.9 659L1300 655L1303 655.2L1306 665.1L1309 664.1L1312 651.1L1315 652.6L1318 650.9L1321 659.1L1324 654.3L1327 660.3L1330 640.8L1333 666.4L1336 653.9L1339 659.7L1342 653.6L1345 651.7L1348 658L1351 660.7L1354 676L1357 653.3L1360 659.5L1363 647.8L1366 643L1369 657.3L1372 649.3L1375 639.8L1378 648.1L1381 650.7L1384 645.2L1387 642.9L1390 654.4L1393 660.8L1396 652.3L1399 648.4L1402 656.7L1405 659L1408 651.1L1411 657.2L1414 660.7L1417 651.1L1420 646.3L1423 654.8L1426 653.8L1429 659.9L1432 641.8L1435 646.2L1438 644.7L1441 637.7L1444 651.4L1447 654.2L1450 644.4L1453 660.1L1456 655.7L1459 654L1462 652L1465 655.9L1468 638.5L1471 652.9L1474 652.6L1477 634.5L1480 650.2L1483 645.4L1486 652.9L1489 643.8L1492 647L1495 649.7L1498 640.7L1501 651.8L1504 646.6L1507 651.1L1510 643.6L1513 655.7L1516 652.2L1519 646.4L1522 652.5L1525 657.3L1528 661.3L1531 636.1L1534 654.6L1537 651.6L1540 647.4L1543 640.7L1546 657.7L1549 638.9L1552 652.6L1555 658.2L1558 636.5L1561 646.3L1564 638.8L1567 650.6L1570 660.1L1573 664L1576 635.6L1579 644.7L1582 654.5L1585 661.4L1588 653L1591 644.5L1594 652.7L1597 650.6L1600 649.5L1603 645.8L1606 654.5L1609 654.3L1612 651.6L1615 650.9L1618 643.2L1621 649.5L1624 662.5L1627 652.4L1630 643.3L1633 664.4L1636 658.7L1639 670.8L1642 655.6L1645 651.8L1648 644.6L1651 665.5L1654 675L1657 649.8L1660 651.2L1663 660.7L1666 650.1L1669 654.5L1672 654.1L1675 658.3L1678 665.2L1681 657.3L1684 664.2L1687 654.3L1690 660.1L1693 641.7L1696 679L1699 664.1L1702 654L1705 663L1708 663L1711 669.2L1714 665.6L1717 667.4L1720 659.3L1723 655.1L1726 655.2L1729 657.3L1732 652.8L1735 687L1738 661.1L1741 663.9L1744 659.6L1747 647.8L1750 661.8L1753 664.1L1756 688L1759 667L1762 657.9L1765 657.4L1768 678L1771 668.7L1774 676.9L1777 679.2L1780 657.2L1783 666.3L1786 667L1789 667.8L1792 667.8L1795 665.3L1798 665.2L1801 652.8L1804 663.1L1807 659L1810 665.8L1813 661.6L1816 670L1819 671.7L1822 668.1L1825 668.5L1828 667L1831 663.2L1834 665.6L1837 663.4L1840 670.2L1843 667.7L1846 672.2L1849 658.1L1852 675L1855 662.9L1858 663.3L1861 667.6L1864 665.1L1867 671.8L1870 689L1873 661.9L1876 663.5L1879 679.5L1882 669.8L1885 660.6L1888 669.2L1891 657.4L1894 682.3L1897 657.3L1900 672.2L1903 672.5L1906 657.4L1909 670.4L1912 675.4L1915 671.3L1918 669.6L1921 674.6L1924 668.5L1927 669.7L1930 666.1L1933 671.6L1936 659.7L1939 672.5L1942 662.6L1945 658.1L1948 668.8L1951 678.7L1954 673.3L1957 662.3L1960 671.5L1963 663L1966 665.5L1969 667.2L1972 649.3L1975 668.2L1978 659.1L1981 661.7L1984 656L1987 655.7L1990 660.1L1993 673.5L1996 679.9L1999 667.3L2002 675.7L2005 665.7L2008 653.4L2011 668.9L2014 671.3L2017 664.8"/>
<path class="cv" clip-path="url(#cb)" stroke="#ff7f0e" d="M1102.5 716L1104.2 713L1106.9 710L1109 728L1111.6 742L1115.2 727L1119.4 707L1122.2 724L1125.5 718L1129.1 739L1133.2 725L1138.8 717L1142.9 685L1146.5 709L1149.9 696L1153 703L1156.8 714L1160.4 684L1163.7 691L1168.7 671L1171.5 677L1176.2 655L1180.3 655L1184.5 633L1189 617L1194.2 598L1197 613L1201.1 663L1205.3 691L1209 697L1212.2 707L1217.7 727L1220 738L1221.9 752L1223.5 735L1226 717L1228.8 723L1232.4 714L1236 720L1239 724.1L1242 732.4L1245 733.8L1248 733.1L1251 736.1L1254 724.2L1257 727.2L1260 725.2L1263 730.8L1266 736L1269 732.6L1272 735.3L1275 726.3L1278 735.2L1281 731.4L1284 742.3L1287 738.9L1290 739.3L1293 735.4L1296 738.3L1299 738.6L1302 734.6L1305 734L1308 735.5L1311 733.5L1314 733.5L1317 734.7L1320 732.9L1323 738.8L1326 729.4L1329 739L1332 733.2L1335 733.5L1338 730.2L1341 735L1344 734.6L1347 736.3L1350 733.4L1353 756L1356 742.7L1359 737L1362 733.1L1365 739.2L1368 734.8L1371 737.7L1374 737.7L1377 733.7L1380 727.5L1383 733.8L1386 737.3L1389 733.6L1392 736.8L1395 739L1398 732.8L1401 739.9L1404 741.3L1407 739L1410 739.2L1413 738.8L1416 743.3L1419 734.9L1422 734L1425 736.3L1428 730.1L1431 727.4L1434 729.9L1437 734.8L1440 735.1L1443 726.9L1446 725.4L1449 731.5L1452 731.9L1455 732.3L1458 735L1461 737.1L1464 733L1467 734.4L1470 727.4L1473 726.9L1476 732.5L1479 734L1482 734.1L1485 710L1488 734.1L1491 734.1L1494 723.8L1497 727.7L1500 732.4L1503 732.9L1506 724.3L1509 735L1512 728.4L1515 729.2L1518 731.1L1521 732.9L1524 724.1L1527 733.7L1530 729.9L1533 726.4L1536 728.3L1539 720.6L1542 726.6L1545 729.9L1548 726.2L1551 727.6L1554 728.3L1557 728.9L1560 732.7L1563 728.4L1566 727.4L1569 730.5L1572 736.6L1575 726.8L1578 730.1L1581 721.7L1584 733.5L1587 730.9L1590 733.7L1593 728.2L1596 724.4L1599 732.2L1602 731.7L1605 725.4L1608 723L1611 730.8L1614 728.4L1617 739.7L1620 717L1623 727.3L1626 729.1L1629 723L1632 726.2L1635 736.4L1638 729.4L1641 727.6L1644 725L1647 732.6L1650 733L1653 731.5L1656 729L1659 731.9L1662 732.3L1665 728.1L1668 733.4L1671 722.6L1674 726L1677 730L1680 730.9L1683 726.8L1686 732.8L1689 735.9L1692 733.5L1695 732.7L1698 735.2L1701 733.7L1704 727.9L1707 732.1L1710 738.4L1713 729.1L1716 734.2L1719 732.8L1722 731.2L1725 731.1L1728 735.9L1731 737.1L1734 737.5L1737 730.8L1740 735.8L1743 744L1746 740.4L1749 739.1L1752 739.5L1755 740.4L1758 739.1L1761 732.3L1764 735.6L1767 732.3L1770 725.5L1773 728.1L1776 743L1779 729.9L1782 725.2L1785 731.7L1788 739.9L1791 733.4L1794 735L1797 732.1L1800 732.7L1803 738.1L1806 736.3L1809 732.8L1812 736.8L1815 737.6L1818 732.5L1821 734.5L1824 734.5L1827 730.9L1830 738.2L1833 733L1836 731.2L1839 727.1L1842 728.8L1845 740L1848 729.4L1851 735.7L1854 732.6L1857 736.2L1860 736.6L1863 749L1866 733.2L1869 734.8L1872 734.9L1875 734.4L1878 733.3L1881 737.1L1884 739.9L1887 709L1890 731.8L1893 736.4L1896 735.2L1899 736.8L1902 742.4L1905 734.2L1908 735L1911 731.5L1914 734L1917 732.9L1920 741.6L1923 736.4L1926 732.9L1929 743L1932 730L1935 738.7L1938 739.4L1941 737.6L1944 734.3L1947 734.9L1950 734.1L1953 738.6L1956 726.2L1959 733.5L1962 736.1L1965 733.2L1968 728.3L1971 734.6L1974 732.6L1977 738.9L1980 741.3L1983 736L1986 728L1989 735L1992 732.1L1995 738.5L1998 742.6L2001 737.1L2004 744L2007 742L2010 738.7L2013 732.5L2016 736.8L2017 730.6"/>
<path class="cv" clip-path="url(#cb)" stroke="#2ca02c" d="M1102.5 842.9L1105.5 818.8L1108.5 829L1111.5 821.6L1114.5 823.5L1117.5 823L1120.5 831L1123.5 824.2L1126.5 822.2L1129.5 826.4L1132.5 826L1135.5 823L1138.5 823.5L1141.5 827.3L1144.5 827.3L1147.5 822.8L1150.5 823.4L1153.5 818L1156.5 831.3L1159.5 824.1L1162.5 830.1L1165.5 826.7L1168.5 832.6L1171.5 831.1L1174.5 826.6L1177.5 831.1L1180.5 821.9L1183.5 830.4L1186.5 820L1189.5 827L1192.5 829.9L1195.5 826.7L1198.5 824.6L1201.5 822.9L1204.5 824.7L1207.5 830L1210.5 829.4L1213.5 825L1216.5 821.3L1219.5 828.6L1222.5 735L1225.5 824L1228.5 823.2L1231.5 828.8L1234.5 826.9L1237.5 827.8L1240.5 827L1243.5 823.4L1246.5 828L1249.5 831.4L1252.5 825.9L1255.5 828.4L1258.5 825.5L1261.5 829.9L1264.5 828.5L1267.5 829.3L1270.5 827.3L1273.5 832.2L1276.5 824.6L1279.5 824.7L1282.5 823.8L1285.5 828.3L1288.5 823.6L1291.5 823.6L1294.5 828.8L1297.5 830.4L1300.5 828.2L1303.5 815.8L1306.5 822.4L1309.5 821.9L1312.5 821.4L1315.5 824.5L1318.5 832.9L1321.5 824.8L1324.5 823.2L1327.5 828.7L1330.5 826.3L1333.5 826.5L1336.5 823.4L1339.5 826L1342.5 827.7L1345.5 818.7L1348.5 819.9L1351.5 830.1L1354.5 829.2L1357.5 824.1L1360.5 822.1L1363.5 825.3L1366.5 821.5L1369.5 824.7L1372.5 832.3L1375.5 826.5L1378.5 830.4L1381.5 825.2L1384.5 827.4L1387.5 831.3L1390.5 820.9L1393.5 824.7L1396.5 825.4L1399.5 827.1L1402.5 831.9L1405.5 828.6L1408.5 820.3L1411.5 825L1414.5 822.6L1417.5 822.5L1420.5 833.7L1423.5 822L1426.5 826.9L1429.5 823.3L1432.5 829.3L1435.5 827.3L1438.5 826.5L1441.5 825.7L1444.5 830.3L1447.5 822.5L1450.5 823.2L1453.5 821.8L1456.5 831.1L1459.5 824.9L1462.5 822.1L1465.5 824.4L1468.5 835.5L1471.5 825.6L1474.5 829.2L1477.5 827.8L1480.5 826L1483.5 823.4L1486.5 796L1489.5 824.7L1492.5 817.6L1495.5 835.8L1498.5 829.5L1501.5 826.4L1504.5 825.2L1507.5 823L1510.5 829.6L1513.5 825.3L1516.5 827.8L1519.5 820.7L1522.5 827.4L1525.5 833.6L1528.5 824.9L1531.5 829L1534.5 826.1L1537.5 830.2L1540.5 830.1L1543.5 826.2L1546.5 823.9L1549.5 827.1L1552.5 826.2L1555.5 823.7L1558.5 827.7L1561.5 827.6L1564.5 822.6L1567.5 825.6L1570.5 837.1L1573.5 829.1L1576.5 826.4L1579.5 835.5L1582.5 824.3L1585.5 816.6L1588.5 818.8L1591.5 820.2L1594.5 827L1597.5 829.7L1600.5 817.8L1603.5 830.2L1606.5 821.3L1609.5 826.9L1612.5 827.7L1615.5 827.6L1618.5 804L1621.5 826.5L1624.5 821.5L1627.5 826.9L1630.5 829.6L1633.5 829.4L1636.5 835.7L1639.5 829.9L1642.5 828.5L1645.5 832.1L1648.5 826.7L1651.5 820.8L1654.5 817.2L1657.5 830.6L1660.5 827.9L1663.5 828.9L1666.5 824.4L1669.5 827L1672.5 832.8L1675.5 826.9L1678.5 821.4L1681.5 824L1684.5 830.8L1687.5 821.4L1690.5 815.7L1693.5 816.8L1696.5 820.4L1699.5 828.5L1702.5 825.8L1705.5 822.6L1708.5 820.6L1711.5 825L1714.5 824.8L1717.5 823.3L1720.5 824.5L1723.5 822.5L1726.5 832.2L1729.5 816.4L1732.5 825.8L1735.5 821.5L1738.5 828L1741.5 824.4L1744.5 826.7L1747.5 827.3L1750.5 826L1753.5 793L1756.5 819.9L1759.5 828.8L1762.5 824.4L1765.5 826.6L1768.5 831.1L1771.5 829.4L1774.5 832.7L1777.5 816.6L1780.5 821.5L1783.5 828.7L1786.5 820.8L1789.5 824.4L1792.5 831.5L1795.5 828.3L1798.5 821.4L1801.5 826.7L1804.5 827.4L1807.5 825.2L1810.5 824.6L1813.5 825.5L1816.5 819.2L1819.5 825.4L1822.5 821.2L1825.5 826.4L1828.5 826.5L1831.5 821.5L1834.5 827.2L1837.5 826.2L1840.5 824.7L1843.5 827.6L1846.5 823.6L1849.5 823.7L1852.5 825.1L1855.5 824.5L1858.5 829.1L1861.5 815.7L1864.5 823.5L1867.5 817L1870.5 822.7L1873.5 825.5L1876.5 824.6L1879.5 828.2L1882.5 825.7L1885.5 780L1888.5 820.2L1891.5 830.3L1894.5 830.3L1897.5 824.7L1900.5 818.5L1903.5 832.6L1906.5 816.3L1909.5 825.4L1912.5 824.1L1915.5 825.1L1918.5 819.7L1921.5 822.6L1924.5 828.2L1927.5 822.3L1930.5 818.8L1933.5 824L1936.5 824.4L1939.5 823.5L1942.5 821L1945.5 826.1L1948.5 823.5L1951.5 819.5L1954.5 824.8L1957.5 823.8L1960.5 824.5L1963.5 817.4L1966.5 821L1969.5 825.6L1972.5 827.4L1975.5 825.2L1978.5 824.5L1981.5 826.7L1984.5 827.6L1987.5 830.6L1990.5 825.7L1993.5 821.8L1996.5 825.7L1999.5 816.5L2002.5 824.1L2005.5 822.2L2008.5 823.8L2011.5 825.8L2014.5 824.1L2017 818.4"/>
<rect x="1763.4" y="55.2" width="237.6" height="146.2" rx="6" ry="6" fill="#fff" fill-opacity="0.8" stroke="#cccccc" stroke-width="1.6"/>
<line x1="1774.9" y1="80.1" x2="1839.7" y2="80.1" stroke="#1f77b4" stroke-width="3"/>
<text class="lg" x="1863" y="91.5">No filter</text>
<line x1="1774.9" y1="125.6" x2="1839.7" y2="125.6" stroke="#ff7f0e" stroke-width="3"/>
<text class="lg" x="1863" y="137">Si filter</text>
<line x1="1774.9" y1="171.1" x2="1839.7" y2="171.1" stroke="#2ca02c" stroke-width="3"/>
<text class="lg" x="1863" y="182.5">Ge filter</text>
<line x1="1254.4" y1="843.7" x2="1254.4" y2="847.9" class="tk"/>
<text x="1254.4" y="885" class="tl" text-anchor="middle">0.15</text>
<line x1="1508.6" y1="843.7" x2="1508.6" y2="847.9" class="tk"/>
<text x="1508.6" y="885" class="tl" text-anchor="middle">0.20</text>
<line x1="1762.8" y1="843.7" x2="1762.8" y2="847.9" class="tk"/>
<text x="1762.8" y="885" class="tl" text-anchor="middle">0.25</text>
<line x1="2017" y1="843.7" x2="2017" y2="847.9" class="tk"/>
<text x="2017" y="885" class="tl" text-anchor="middle">0.30</text>
<line x1="1097.7" y1="829.6" x2="1101.9" y2="829.6" class="tk"/>
<text x="1091.4" y="845.1" class="tl" text-anchor="end">0</text>
<line x1="1097.7" y1="685.9" x2="1101.9" y2="685.9" class="tk"/>
<text x="1091.4" y="701.4" class="tl" text-anchor="end">1</text>
<line x1="1097.7" y1="542.2" x2="1101.9" y2="542.2" class="tk"/>
<text x="1091.4" y="557.7" class="tl" text-anchor="end">2</text>
<line x1="1097.7" y1="398.5" x2="1101.9" y2="398.5" class="tk"/>
<text x="1091.4" y="414" class="tl" text-anchor="end">3</text>
<line x1="1097.7" y1="254.8" x2="1101.9" y2="254.8" class="tk"/>
<text x="1091.4" y="270.3" class="tl" text-anchor="end">4</text>
<line x1="1097.7" y1="111.1" x2="1101.9" y2="111.1" class="tk"/>
<text x="1091.4" y="126.6" class="tl" text-anchor="end">5</text>
<rect x="1101.9" y="39.6" width="915.1" height="804.1" class="sp"/>
<text class="pl" x="1102.2" y="28.3">(b)</text>
<text class="lb" x="1559.4" y="929.5" text-anchor="middle">Energy (eV)</text>
<text class="lb" style="font-size:38.5px" transform="translate(1051.2 442.5) rotate(-90)" text-anchor="middle">PC (a.u)</text>
</svg>
</body></html>
